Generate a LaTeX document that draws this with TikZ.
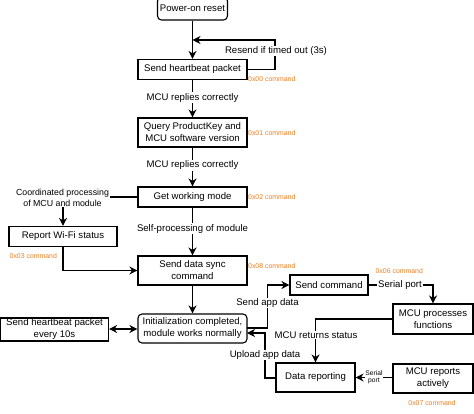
\documentclass[tikz,border=0pt]{standalone}
\usepackage{fontspec}
\setmainfont{Liberation Sans}
\usetikzlibrary{arrows.meta}
\definecolor{cmdorange}{RGB}{240,125,30}
\tikzset{
  x=1pt, y=-1pt,
  every node/.style={font=\fontsize{9.6}{12}\selectfont},
  box/.style={draw, line width=1.1pt, align=center, inner sep=1pt},
  rbox/.style={box, rounded corners=4pt},
  lbl/.style={fill=white, inner sep=1pt, align=center},
  cmd/.style={text=cmdorange, font=\fontsize{6.9}{8}\selectfont, inner sep=0.5pt},
  conn/.style={line width=1.1pt, -{Stealth[length=8pt,width=8pt,inset=2.5pt]}},
}
\begin{document}
\begin{tikzpicture}
\useasboundingbox (0,0) rectangle (474,414);
% boxes
\node[rbox, minimum width=70pt, minimum height=23pt] (power) at (192.5,8.5) {Power-on reset};
\node[box, minimum width=109pt, minimum height=20pt] (hb) at (192.5,69.5) {Send heartbeat packet};
\node[box, minimum width=109pt, minimum height=29pt] (query) at (192.5,132.5) {Query ProductKey and\\MCU software version};
\node[box, minimum width=109pt, minimum height=20pt] (mode) at (192.5,197) {Get working mode};
\node[box, minimum width=108pt, minimum height=20pt] (wifi) at (63,236.5) {Report Wi-Fi status};
\node[box, minimum width=109pt, minimum height=29pt] (sync) at (192.5,270.5) {Send data sync\\command};
\node[rbox, minimum width=109pt, minimum height=29pt] (init) at (192.5,328.5) {Initialization completed,\\module works normally};
\node[box, minimum width=108pt, minimum height=22pt] (hbten) at (54.5,329.5) {Send heartbeat packet\\every 10s};
\node[box, minimum width=78pt, minimum height=20pt] (scmd) at (329,285) {Send command};
\node[box, minimum width=80pt, minimum height=30pt] (proc) at (433,319) {MCU processes\\functions};
\node[box, minimum width=79pt, minimum height=29pt] (rep) at (315.5,377.5) {Data reporting};
\node[box, minimum width=80pt, minimum height=29pt] (act) at (433,378.5) {MCU reports\\actively};
% command labels
\node[cmd, anchor=west] (c0) at (247.5,79.5) {0x00 command};
\node[cmd, anchor=west] (c1) at (247.5,133) {0x01 command};
\node[cmd, anchor=west] (c2) at (247.5,197.5) {0x02 command};
\node[cmd, anchor=west] (c8) at (247.5,266) {0x08 command};
\node[cmd, anchor=west] (c3) at (9,256) {0x03 command};
\node[cmd, anchor=west] (c6) at (375,271) {0x06 command};
\node[cmd] (c7) at (432,403) {0x07 command};
% connectors
\draw[conn] (power) -- (hb);
\coordinate (r1) at (275,69.5);
\coordinate (r2) at (275,40);
\coordinate (r3) at (192.5,40);
\draw[conn] (hb.east) -- (r1) -- (r2) -- (r3);
\node[lbl] (lresend) at (276,51) {Resend if timed out (3s)};
\draw[conn] (hb) -- (query) node[lbl, pos=0.47] (lmcu1) {MCU replies correctly};
\draw[conn] (query) -- (mode) node[lbl, pos=0.45] (lmcu2) {MCU replies correctly};
\draw[conn] (mode.west) -| (wifi.north);
\node[lbl, font=\fontsize{8.8}{10.5}\selectfont] (lcoord) at (62.5,198) {Coordinated processing\\of MCU and module};
\draw[conn] (mode) -- (sync) node[lbl, pos=0.44] (lself) {Self-processing of module};
\draw[conn] (wifi.south) |- (sync.west);
\draw[conn] (sync) -- (init);
\draw[line width=1.1pt, {Stealth[length=8pt,width=8pt,inset=2.5pt]}-{Stealth[length=8pt,width=8pt,inset=2.5pt]}] (hbten.east |- 0,329) -- (init.west |- 0,329);
\coordinate (s1) at (247,328);
\coordinate (s2) at (267.5,328);
\coordinate (s3) at (267.5,285);
\draw[conn] (s1) -- (s2) -- (s3) -- (scmd.west);
\node[lbl] (lsend) at (267.5,303) {Send app data};
\coordinate (p1) at (433,285);
\draw[conn] (scmd.east) -- (p1) -- (proc.north);
\node[lbl] (lser) at (400,285) {Serial port};
\coordinate (m1) at (315.5,319);
\draw[conn] (proc.west) -- (m1) -- (rep.north);
\node[lbl] (lret) at (316,335) {MCU returns status};
\coordinate (u1) at (265,378);
\coordinate (u2) at (265,333);
\coordinate (u3) at (247,333);
\draw[conn] (rep.west |- u1) -- (u1) -- (u2) -- (u3);
\node[lbl] (lup) at (265,355) {Upload app data};
\draw[conn] (act.west |- 0,377.5) -- (rep.east |- 0,377.5);
\node[lbl, font=\fontsize{6.7}{7.5}\selectfont, inner sep=0.5pt] (lser2) at (374,377.5) {Serial\\port};
\end{tikzpicture}
\end{document}
